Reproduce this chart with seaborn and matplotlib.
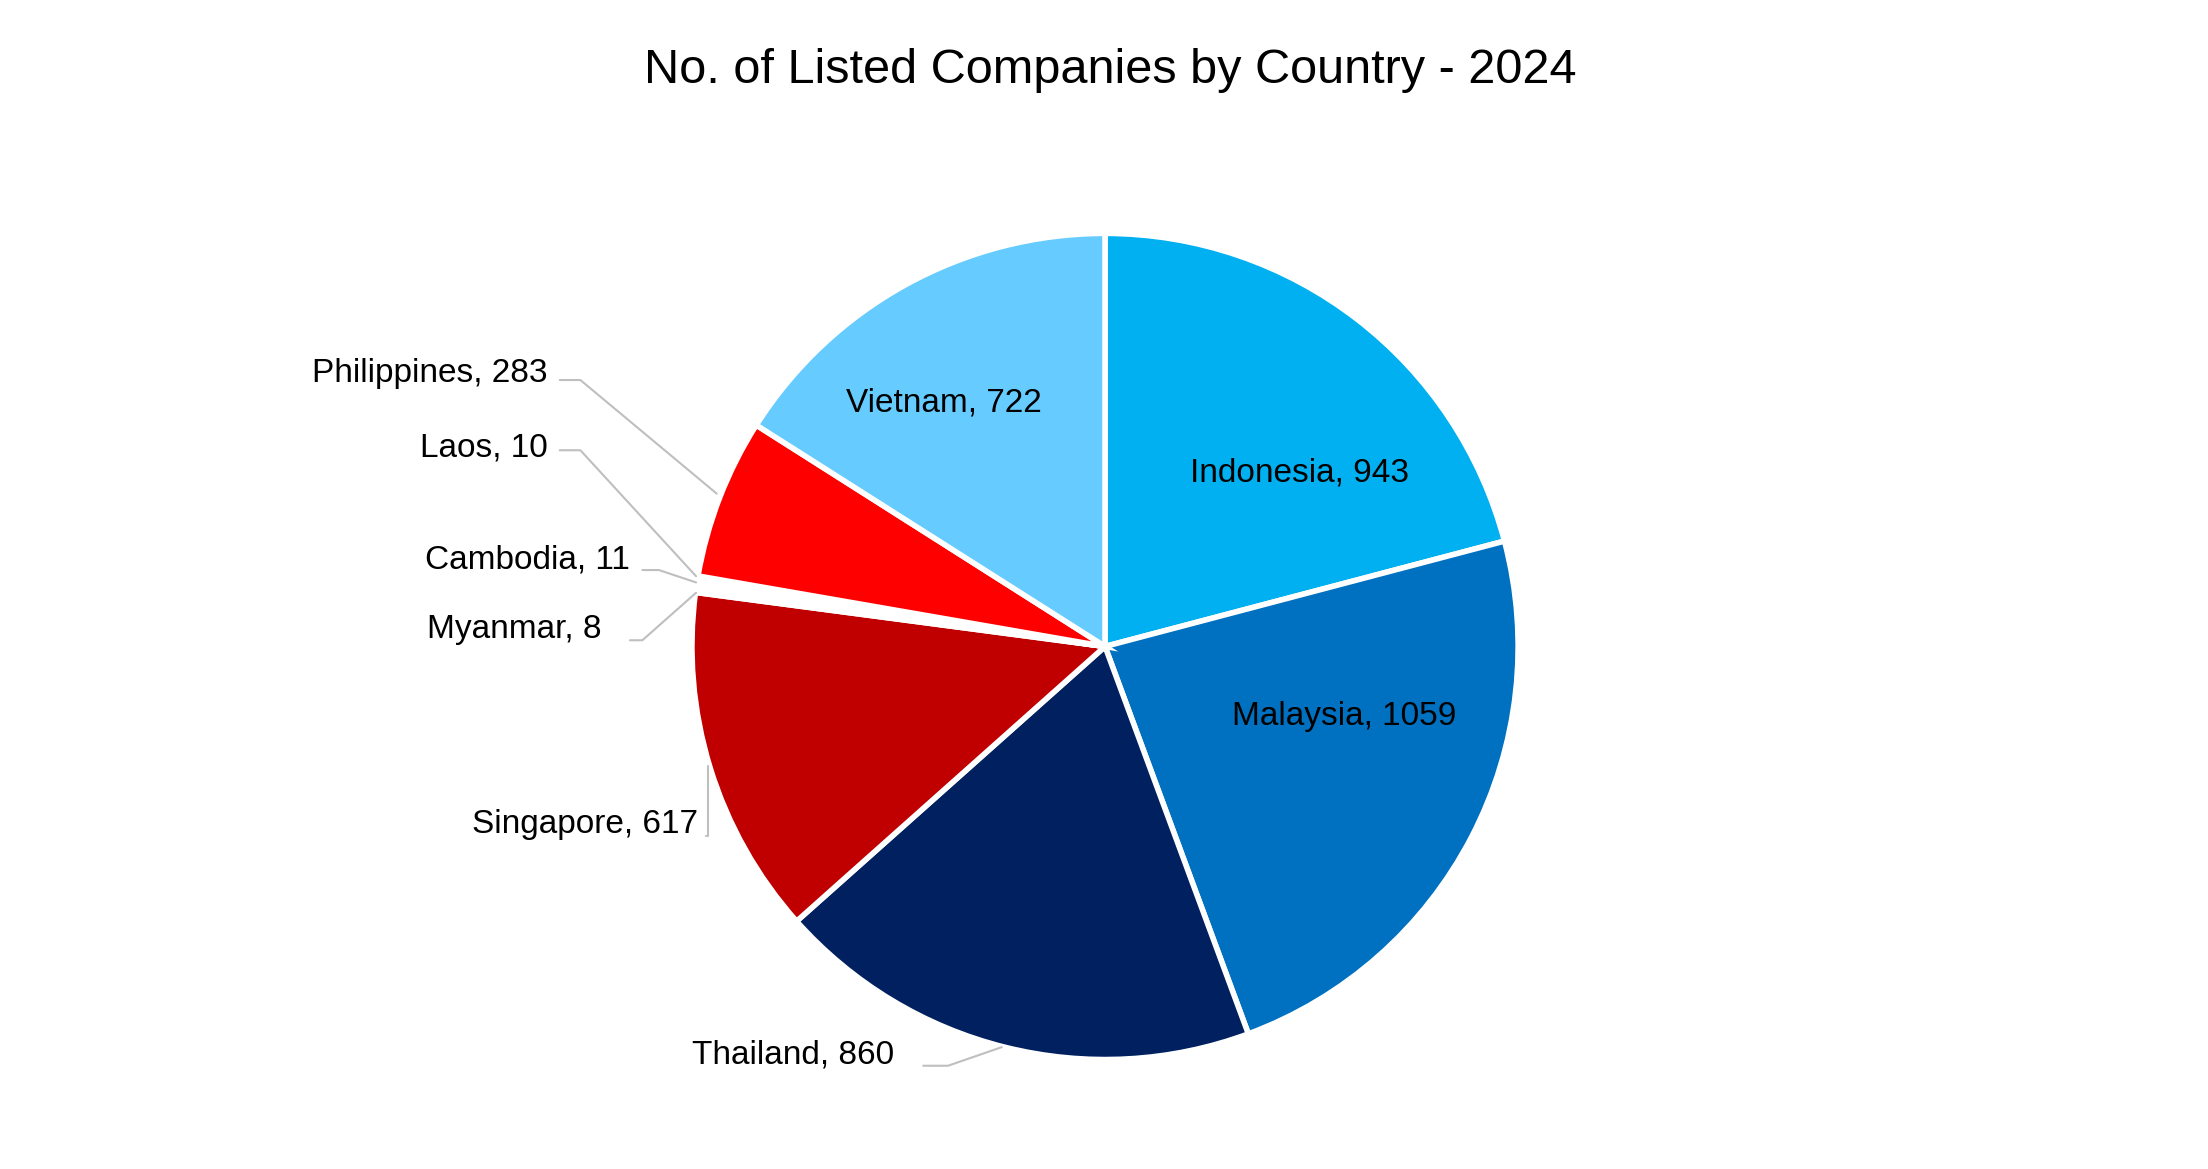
import matplotlib
matplotlib.use("Agg")
import matplotlib.pyplot as plt
import seaborn as sns

sns.set_style("white")
plt.rcParams['font.family'] = ['Liberation Sans', 'DejaVu Sans']

countries = ["Indonesia", "Malaysia", "Thailand", "Singapore", "Myanmar",
             "Cambodia", "Laos", "Philippines", "Vietnam"]
values = [943, 1059, 860, 617, 8, 11, 10, 283, 722]
colors = ["#00B0F0", "#0070C0", "#002060", "#C00000", "#FFFFFF",
          "#FFFFFF", "#FFFFFF", "#FF0000", "#66CCFF"]

fig = plt.figure(figsize=(22.08, 11.69), dpi=100)
ax = fig.add_axes([0, 0, 1, 1])
ax.pie(values, colors=colors, startangle=90, counterclock=False,
       wedgeprops=dict(edgecolor="white", linewidth=4), radius=1.0)
ax.set_xlim(-2.675, 2.67)
ax.set_ylim(-1.265, 1.565)
ax.set_aspect("auto")
ax.axis("off")

fs = 24
inside = {"Vietnam": (-0.39, 0.59), "Indonesia": (0.47, 0.42), "Malaysia": (0.58, -0.17)}
for c, (x, y) in inside.items():
    v = values[countries.index(c)]
    ax.text(x, y, f"{c}, {v}", ha="center", va="center", fontsize=fs, color="black")

outside = {
    "Thailand": ((-0.51, -0.99), [(-0.44, -1.015), (-0.38, -1.015), (-0.25, -0.97)]),
    "Singapore": ((-0.985, -0.43), [(-0.965, -0.46), (-0.96, -0.46), (-0.96, -0.29)]),
    "Myanmar": ((-1.22, 0.04), [(-1.15, 0.015), (-1.12, 0.015), (-0.99, 0.13)]),
    "Cambodia": ((-1.15, 0.21), [(-1.12, 0.185), (-1.08, 0.185), (-0.99, 0.155)]),
    "Laos": ((-1.35, 0.48), [(-1.32, 0.475), (-1.27, 0.475), (-0.99, 0.17)]),
    "Philippines": ((-1.35, 0.66), [(-1.32, 0.645), (-1.27, 0.645), (-0.94, 0.37)]),
}
for c, ((x, y), pts) in outside.items():
    v = values[countries.index(c)]
    ax.text(x, y, f"{c}, {v}", ha="right", va="center", fontsize=fs, color="black")
    xs, ys = zip(*pts)
    ax.plot(xs, ys, color="#BFBFBF", linewidth=1.5)

fig.text(0.503, 0.94, "No. of Listed Companies by Country - 2024",
         ha="center", va="center", fontsize=35, color="black")
fig.savefig("out.png", dpi=100)
